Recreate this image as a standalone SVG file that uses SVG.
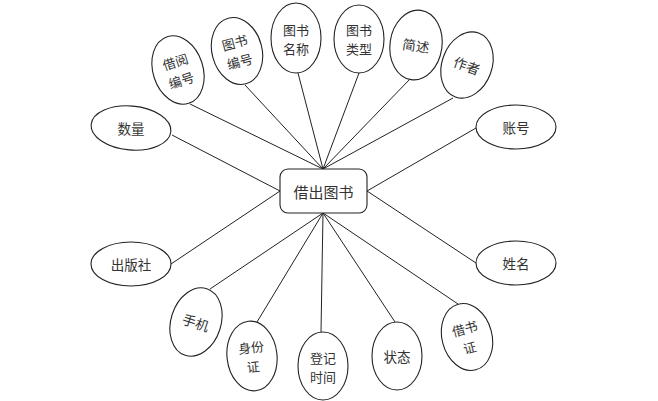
<svg xmlns="http://www.w3.org/2000/svg" width="658" height="401" viewBox="0 0 658 401">
<style>
.e{fill:#fff;stroke:#222;stroke-width:1.1}
.t{font-family:"Noto Sans CJK SC","Microsoft YaHei",sans-serif;font-size:13.5px;fill:#333;text-anchor:middle;dominant-baseline:central}
.m{font-size:13px}
.c{stroke:#222;stroke-width:1;fill:none}
</style>
<rect width="658" height="401" fill="#fff"/>
<g id="connectors">
<line class="c" x1="172" y1="135" x2="280" y2="191"/>
<line class="c" x1="190" y1="104" x2="323" y2="169"/>
<line class="c" x1="245" y1="85" x2="323" y2="169"/>
<line class="c" x1="298" y1="73" x2="323" y2="169"/>
<line class="c" x1="359" y1="73" x2="323" y2="169"/>
<line class="c" x1="410" y1="79" x2="323" y2="169"/>
<line class="c" x1="453" y1="98" x2="323" y2="169"/>
<line class="c" x1="476" y1="128" x2="367" y2="191"/>
<line class="c" x1="476" y1="263" x2="367" y2="191"/>
<line class="c" x1="171" y1="264" x2="280" y2="191"/>
<line class="c" x1="210" y1="289" x2="323" y2="213"/>
<line class="c" x1="257" y1="322" x2="323" y2="213"/>
<line class="c" x1="321" y1="332" x2="323" y2="213"/>
<line class="c" x1="395" y1="322" x2="323" y2="213"/>
<line class="c" x1="458" y1="304" x2="323" y2="213"/>
</g>
<g id="center">
<rect x="280" y="169" width="87" height="44" rx="8" class="e"/>
<text class="t" x="323.5" y="191" style="font-size:15px">借出图书</text>
</g>
<g id="n-shuliang">
<ellipse class="e" cx="131" cy="128" rx="40" ry="22" transform="rotate(5 131 128)"/>
<text class="t" x="131" y="128">数量</text>
</g>
<g id="n-jieyuebianhao" transform="rotate(-18 178 70)">
<ellipse class="e" cx="178" cy="70" rx="25" ry="35"/>
<text class="t m" x="178" y="61">借阅<tspan x="178" dy="19">编号</tspan></text>
</g>
<g id="n-tushubianhao" transform="rotate(-15 237 51)">
<ellipse class="e" cx="237" cy="51" rx="25" ry="34"/>
<text class="t m" x="237" y="42">图书<tspan x="237" dy="19">编号</tspan></text>
</g>
<g id="n-tushumingcheng">
<ellipse class="e" cx="296" cy="38" rx="25" ry="35"/>
<text class="t m" x="296" y="29">图书<tspan x="296" dy="19">名称</tspan></text>
</g>
<g id="n-tushuleixing">
<ellipse class="e" cx="359" cy="39" rx="25" ry="34"/>
<text class="t m" x="359" y="29">图书<tspan x="359" dy="19">类型</tspan></text>
</g>
<g id="n-jianshu" transform="rotate(8 416 45)">
<ellipse class="e" cx="416" cy="45" rx="26" ry="35"/>
<text class="t" x="416" y="45">简述</text>
</g>
<g id="n-zuozhe" transform="rotate(20 467 65)">
<ellipse class="e" cx="467" cy="65" rx="25" ry="34"/>
<text class="t" x="467" y="65">作者</text>
</g>
<g id="n-zhanghao">
<ellipse class="e" cx="516" cy="127" rx="40" ry="22"/>
<text class="t" x="516" y="127">账号</text>
</g>
<g id="n-xingming">
<ellipse class="e" cx="516" cy="263" rx="40" ry="22"/>
<text class="t" x="516" y="263">姓名</text>
</g>
<g id="n-chubanshe">
<ellipse class="e" cx="131" cy="264" rx="40" ry="22"/>
<text class="t" x="131" y="264">出版社</text>
</g>
<g id="n-shouji" transform="rotate(18 196 322)">
<ellipse class="e" cx="196" cy="322" rx="25" ry="35"/>
<text class="t" x="196" y="322">手机</text>
</g>
<g id="n-shenfenzheng" transform="rotate(-6 252 356)">
<ellipse class="e" cx="252" cy="356" rx="25" ry="35"/>
<text class="t m" x="252" y="347">身份<tspan x="252" dy="19">证</tspan></text>
</g>
<g id="n-dengjishijian">
<ellipse class="e" cx="323" cy="366" rx="25" ry="34"/>
<text class="t m" x="323" y="357">登记<tspan x="323" dy="19">时间</tspan></text>
</g>
<g id="n-zhuangtai">
<ellipse class="e" cx="397" cy="356" rx="25" ry="34"/>
<text class="t" x="397" y="356">状态</text>
</g>
<g id="n-jieshuzheng" transform="rotate(-15 467 337)">
<ellipse class="e" cx="467" cy="337" rx="25" ry="34"/>
<text class="t m" x="467" y="328">借书<tspan x="467" dy="19">证</tspan></text>
</g>
</svg>
